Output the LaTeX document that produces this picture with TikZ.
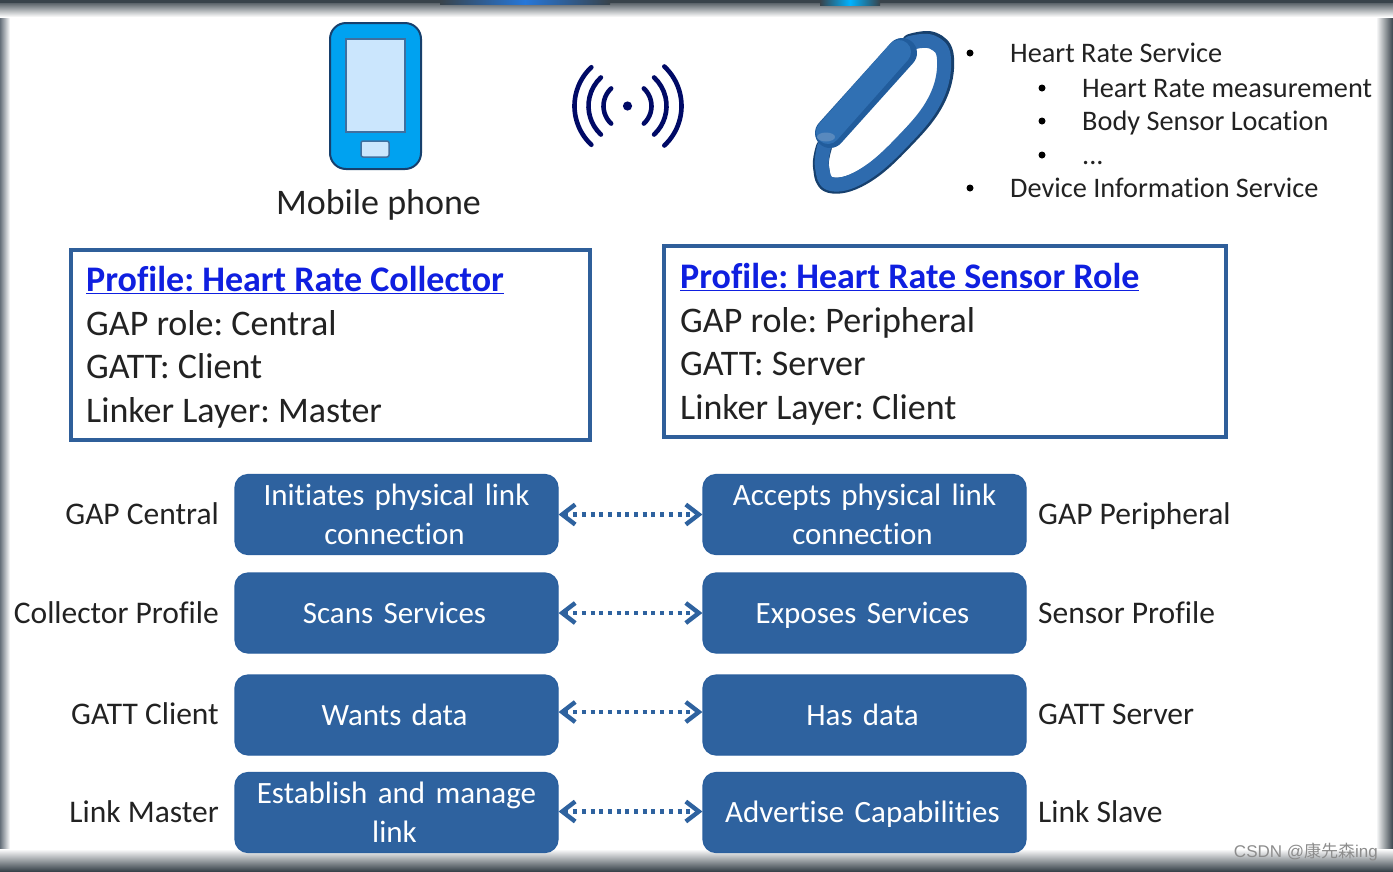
\documentclass[tikz,border=0pt]{standalone}
\usepackage{fontspec}
\setmainfont[RawFeature={-liga;-clig;-dlig}]{Carlito}
\newfontfamily\wmfont{Liberation Sans}
\newfontfamily\wmcjk{Noto Sans CJK SC}
\usetikzlibrary{arrows.meta,calc}
\definecolor{boxblue}{HTML}{2E629F}
\definecolor{boxedge}{HTML}{2A5F9E}
\definecolor{ink}{HTML}{222222}
\definecolor{frameblue}{HTML}{2F5F9A}
\definecolor{headblue}{HTML}{0F1FE0}
\definecolor{navy}{HTML}{000A66}
\definecolor{phoneblue}{HTML}{00A2F0}
\definecolor{phoneline}{HTML}{17406D}
\definecolor{phoneinner}{HTML}{3F6F9F}
\definecolor{phonepale}{HTML}{CBE6FD}
\definecolor{bandblue}{HTML}{2E6BAE}
\definecolor{banddark}{HTML}{215C9C}
\definecolor{bandlight}{HTML}{3070B3}
\definecolor{edgedark}{HTML}{39434B}
\definecolor{edgeside}{HTML}{66707A}
\newcommand\boxrow[1]{\rule[-6pt]{0pt}{32pt}#1\hspace*{4pt}}
\tikzset{
  x=1pt,y=-1pt,
  actbox/.style={draw=boxedge,line width=1.2pt,fill=boxblue,rounded corners=13pt,
    minimum width=323pt,minimum height=80pt,inner sep=2pt,text=white,text width=315pt,
    align=center,font=\fontsize{31}{39}\selectfont},
  sidelabel/.style={text=ink,inner sep=0pt,text height=20pt,text depth=0pt,font=\fontsize{31.5}{36}\selectfont},
  lefttag/.style={sidelabel,anchor=east},
  righttag/.style={sidelabel,anchor=west},
  profiletext/.style={anchor=north west,inner sep=0pt,align=left,text=ink,font=\fontsize{36}{43.7}\selectfont},
  profileframe/.style={draw=frameblue,line width=4.5pt},
  link/.style={draw=boxblue,line width=4.2pt,dash pattern=on 4pt off 4.7pt,
    {Straight Barb[length=13pt,width=20pt,line width=4.4pt]}-{Straight Barb[length=13pt,width=20pt,line width=4.4pt]}},
  bulletdot/.style={circle,fill=black,inner sep=0pt,minimum size=7pt},
  svc/.style={anchor=west,text=ink,inner sep=0pt,text height=19pt,text depth=0pt,font=\fontsize{28.3}{34}\selectfont},
  wave/.style={draw=navy,line width=4.6pt,line cap=round},
}
\begin{document}
\frenchspacing
\begin{tikzpicture}
\useasboundingbox (0,0) rectangle (1393,871);
\fill[white] (0,0) rectangle (1393,871);
% frame edges
\shade[left color=edgeside,right color=white] (0,0) rectangle (10,871);
\shade[left color=white,right color=edgedark] (1376,0) rectangle (1393,871);
\shade[top color=edgedark,bottom color=white] (0,0) rectangle (1393,17);
\shade[top color=white,bottom color=edgedark] (0,849) rectangle (1393,871);
\fill[edgedark] (0,0) rectangle (1393,3);
\shade[left color=edgedark,right color=edgedark,middle color=cyan!45!blue!70!gray] (440,0) rectangle (610,4);
\shade[left color=edgedark,right color=edgedark,middle color=cyan!70!blue] (820,0) rectangle (880,5);

% phone
\draw[draw=phoneline,line width=2pt,fill=phoneblue,rounded corners=16pt] (330,23) rectangle (421,169);
\draw[draw=phoneinner,line width=1.5pt,fill=phonepale] (346,39) rectangle (405,132);
\draw[draw=phoneinner,line width=1.5pt,fill=phonepale,rounded corners=2pt] (361,141) rectangle (389,157);
\node[text=ink,inner sep=0pt,font=\fontsize{36}{40}\selectfont] (phonelabel) at (378.5,205) {Mobile phone};

% wireless
\fill[navy] (627.5,106) circle[radius=4.6];
\begin{scope}[shift={(627.5,106)}]
  \draw[wave] (133:24) arc[start angle=133,end angle=227,radius=24];
  \draw[wave] (133:39) arc[start angle=133,end angle=227,radius=39];
  \draw[wave] (133:53) arc[start angle=133,end angle=227,radius=53];
  \draw[wave] (47:24) arc[start angle=47,end angle=-47,radius=24];
  \draw[wave] (47:39) arc[start angle=47,end angle=-47,radius=39];
  \draw[wave] (47:54) arc[start angle=47,end angle=-47,radius=54];
\end{scope}

% wristband
\draw[draw=banddark!70!black,line width=16pt,line cap=round,line join=round]
  plot[smooth,tension=0.7] coordinates {(910,42) (933,40) (946,58) (937,100) (903,143) (863,177) (830,185) (821,167) (824,147)};
\draw[draw=bandblue,line width=14pt,line cap=round,line join=round]
  plot[smooth,tension=0.7] coordinates {(910,43) (932,42) (944,59) (935,100) (901,143) (862,176) (831,184) (822,167) (824,147)};
\draw[draw=banddark,line width=30pt,line cap=round] (830,133) -- (902,53);
\draw[draw=bandlight,line width=24pt,line cap=round] (828,132) -- (899,52);
\fill[bandblue!80!white] (826,137) ellipse[x radius=9,y radius=4.5];

% services list
\node[bulletdot] (b1) at (970,53) {};
\node[svc] (s1) at (1010,53) {Heart Rate Service};
\node[bulletdot] (b2) at (1042,88) {};
\node[svc] (s2) at (1082,88) {Heart Rate measurement};
\node[bulletdot] (b3) at (1042,121) {};
\node[svc] (s3) at (1082,121) {Body Sensor Location};
\node[bulletdot] (b4) at (1042,155) {};
\node[svc] (s4) at (1082,155) {...};
\node[bulletdot] (b5) at (970,188) {};
\node[svc] (s5) at (1010,188) {Device Information Service};

% profile boxes
\draw[profileframe] (71,250) rectangle (590,440);
\draw[profileframe] (664,246) rectangle (1226,437);
\node[profiletext] (collector) at (86,266)
  {{\color{headblue}\bfseries\underline{Profile: Heart Rate Collector}}\\GAP role: Central\\GATT: Client\\Linker Layer: Master};
\node[profiletext] (sensor) at (680,263)
  {{\color{headblue}\bfseries\underline{Profile: Heart Rate Sensor Role}}\\GAP role: Peripheral\\GATT: Server\\Linker Layer: Client};

% action boxes
\node[actbox] (l1) at (396.5,514.5) {\boxrow{Initiates physical link}\\\boxrow{connection}};
\node[actbox] (r1) at (864.5,514.5) {\boxrow{Accepts physical link}\\\boxrow{connection}};
\node[actbox] (l2) at (396.5,613) {\boxrow{Scans Services}};
\node[actbox] (r2) at (864.5,613) {\boxrow{Exposes Services}};
\node[actbox] (l3) at (396.5,715) {\boxrow{Wants data}};
\node[actbox] (r3) at (864.5,715) {\boxrow{Has data}};
\node[actbox] (l4) at (396.5,812.5) {\boxrow{Establish and manage}\\\boxrow{link}};
\node[actbox] (r4) at (864.5,812.5) {\boxrow{Advertise Capabilities}};

\draw[link] (l1) -- (r1);
\draw[link] (l2) -- (r2);
\draw[link] ([yshift=3pt]l3.east) -- ([yshift=3pt]r3.west);
\draw[link] ([yshift=1pt]l4.east) -- ([yshift=1pt]r4.west);

% side labels
\node[lefttag] (tl1) at (219,514.5) {GAP Central};
\node[lefttag] (tl2) at (219,613.5) {Collector Profile};
\node[lefttag] (tl3) at (219,714) {GATT Client};
\node[lefttag] (tl4) at (219,812) {Link Master};
\node[righttag] (tr1) at (1038,514.5) {GAP Peripheral};
\node[righttag] (tr2) at (1038,613.5) {Sensor Profile};
\node[righttag] (tr3) at (1038,714) {GATT Server};
\node[righttag] (tr4) at (1038,812) {Link Slave};

% watermark
\node[anchor=east,inner sep=0pt,text=black!45,font=\fontsize{17}{22}\selectfont] (mark) at (1378,852) {\wmfont CSDN @\wmcjk 康先森\wmfont ing};
\end{tikzpicture}
\end{document}
